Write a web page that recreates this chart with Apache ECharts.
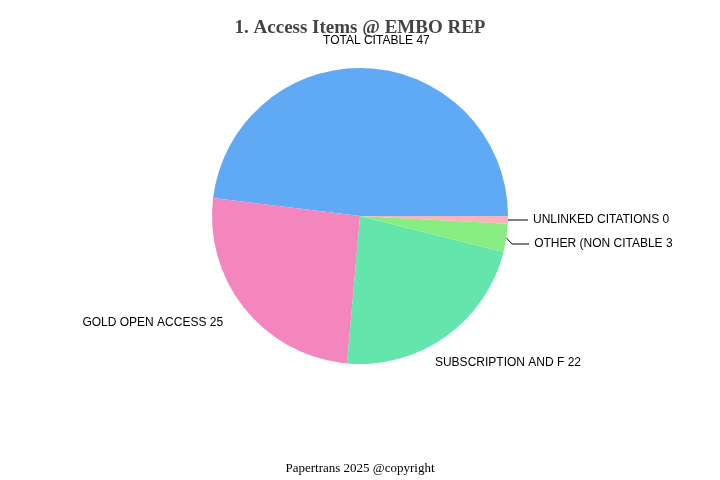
<!DOCTYPE html>
<html>
<head>
<meta charset="utf-8">
<script src="https://cdn.jsdelivr.net/npm/echarts@6/dist/echarts.min.js"></script>
<style>
html, body { margin: 0; padding: 0; background: #fff; }
#main { width: 720px; height: 480px; }
</style>
</head>
<body>
<div id="main"></div>
<script>
// data
var names = ['TOTAL CITABLE', 'GOLD OPEN ACCESS', 'SUBSCRIPTION AND F', 'OTHER (NON CITABLE', 'UNLINKED CITATIONS'];
var values = [47, 25, 22, 3, 0];
var colors = ['#60a9f5', '#f386bd', '#63e5ac', '#88ed80', '#f8b4b8'];

// label guide lines: only the thin slices show them
var lineShow = [false, false, false, true, true];
var lineLen = [27.6, 21.7, 32.5, 11, 5];
var lineLen2 = [-52.7, 0, -34.8, 17, 20];
// taller label box on the last slice pushes its neighbour down
var labelLineHeight = [14, 14, 14, 14, 30];

var myChart = echarts.init(document.getElementById('main'));

var pieData = [];
for (var i = 0; i < names.length; i++) {
    pieData.push({
        name: names[i],
        value: values[i],
        itemStyle: { color: colors[i] },
        label: { lineHeight: labelLineHeight[i] },
        labelLine: { show: lineShow[i], length: lineLen[i], length2: lineLen2[i] }
    });
}

var option = {
    animation: false,
    title: [{
        text: '1. Access Items @ EMBO REP',
        left: 'center',
        top: 14,
        textStyle: { fontFamily: 'Liberation Serif', fontSize: 19, fontWeight: 'bold', color: '#444' }
    }, {
        text: 'Papertrans 2025 @copyright',
        left: 'center',
        top: 457,
        textStyle: { fontFamily: 'Liberation Serif', fontSize: 13, fontWeight: 'normal', color: '#000' }
    }],
    series: [{
        type: 'pie',
        center: [360, 216],
        radius: 148,
        startAngle: 0,
        clockwise: false,
        minAngle: 3,
        data: pieData,
        label: {
            show: true,
            position: 'outside',
            formatter: '{b} {c}',
            color: '#000',
            fontFamily: 'Liberation Sans',
            fontSize: 12
        },
        labelLine: {
            lineStyle: { color: '#000', width: 1 }
        }
    }]
};

myChart.setOption(option);
</script>
</body>
</html>
